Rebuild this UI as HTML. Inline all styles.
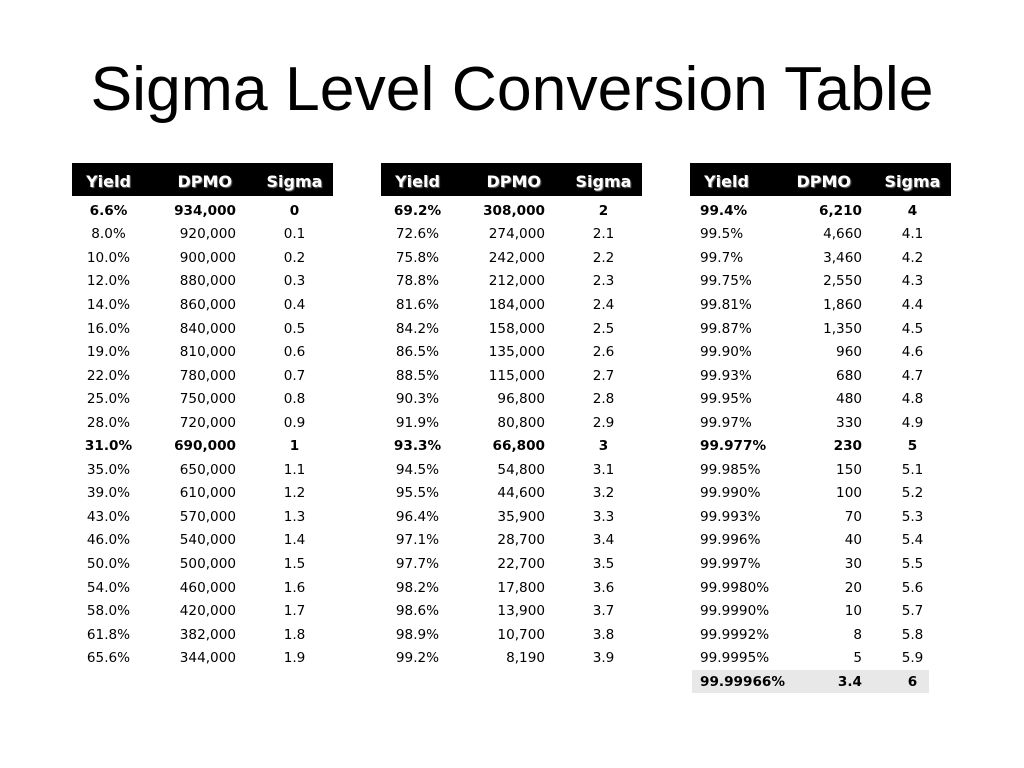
<!DOCTYPE html>
<html><head><meta charset="utf-8"><style>
body{margin:0;width:1024px;height:768px;background:#fff;position:relative;overflow:hidden;font-family:"DejaVu Sans",Verdana,sans-serif;}
h1{position:absolute;left:0;top:58px;width:1024px;text-align:center;margin:0;font:62.5px/1 "Liberation Sans",Arial,sans-serif;color:#000;}
table{position:absolute;top:163px;border-collapse:collapse;font-size:13.6px;color:#000;table-layout:fixed;width:261px;}
th{background:#000;color:#fff;height:30px;padding:3px 0 0 0;font-weight:bold;font-size:16px;text-shadow:1px 1px 1px #777;white-space:nowrap;}
td{height:23.55px;padding:0;white-space:nowrap;overflow:visible;}
.c1{text-align:center}
.c2{text-align:right;padding-right:20px}
th.c2{padding-right:24px}
.c3{text-align:center}
.t3 td.c1{text-align:left;padding-left:10px}
.t3 .c2{padding-right:12px}
.t3 th.c2{padding-right:23px}
.sp td{height:3px}
.hl td{background:#e8e8e8;font-weight:bold}
.bd td{font-weight:bold}
</style></head><body>
<h1>Sigma Level Conversion Table</h1>
<table style="left:72px">
<colgroup><col style="width:73px"><col style="width:111px"><col style="width:77px"></colgroup>
<tr><th class="c1">Yield</th><th class="c2">DPMO</th><th class="c3">Sigma</th></tr>
<tr class="sp"><td></td><td></td><td></td></tr>
<tr class="bd"><td class="c1">6.6%</td><td class="c2">934,000</td><td class="c3">0</td></tr>
<tr><td class="c1">8.0%</td><td class="c2">920,000</td><td class="c3">0.1</td></tr>
<tr><td class="c1">10.0%</td><td class="c2">900,000</td><td class="c3">0.2</td></tr>
<tr><td class="c1">12.0%</td><td class="c2">880,000</td><td class="c3">0.3</td></tr>
<tr><td class="c1">14.0%</td><td class="c2">860,000</td><td class="c3">0.4</td></tr>
<tr><td class="c1">16.0%</td><td class="c2">840,000</td><td class="c3">0.5</td></tr>
<tr><td class="c1">19.0%</td><td class="c2">810,000</td><td class="c3">0.6</td></tr>
<tr><td class="c1">22.0%</td><td class="c2">780,000</td><td class="c3">0.7</td></tr>
<tr><td class="c1">25.0%</td><td class="c2">750,000</td><td class="c3">0.8</td></tr>
<tr><td class="c1">28.0%</td><td class="c2">720,000</td><td class="c3">0.9</td></tr>
<tr class="bd"><td class="c1">31.0%</td><td class="c2">690,000</td><td class="c3">1</td></tr>
<tr><td class="c1">35.0%</td><td class="c2">650,000</td><td class="c3">1.1</td></tr>
<tr><td class="c1">39.0%</td><td class="c2">610,000</td><td class="c3">1.2</td></tr>
<tr><td class="c1">43.0%</td><td class="c2">570,000</td><td class="c3">1.3</td></tr>
<tr><td class="c1">46.0%</td><td class="c2">540,000</td><td class="c3">1.4</td></tr>
<tr><td class="c1">50.0%</td><td class="c2">500,000</td><td class="c3">1.5</td></tr>
<tr><td class="c1">54.0%</td><td class="c2">460,000</td><td class="c3">1.6</td></tr>
<tr><td class="c1">58.0%</td><td class="c2">420,000</td><td class="c3">1.7</td></tr>
<tr><td class="c1">61.8%</td><td class="c2">382,000</td><td class="c3">1.8</td></tr>
<tr><td class="c1">65.6%</td><td class="c2">344,000</td><td class="c3">1.9</td></tr>
</table>
<table style="left:381px">
<colgroup><col style="width:73px"><col style="width:111px"><col style="width:77px"></colgroup>
<tr><th class="c1">Yield</th><th class="c2">DPMO</th><th class="c3">Sigma</th></tr>
<tr class="sp"><td></td><td></td><td></td></tr>
<tr class="bd"><td class="c1">69.2%</td><td class="c2">308,000</td><td class="c3">2</td></tr>
<tr><td class="c1">72.6%</td><td class="c2">274,000</td><td class="c3">2.1</td></tr>
<tr><td class="c1">75.8%</td><td class="c2">242,000</td><td class="c3">2.2</td></tr>
<tr><td class="c1">78.8%</td><td class="c2">212,000</td><td class="c3">2.3</td></tr>
<tr><td class="c1">81.6%</td><td class="c2">184,000</td><td class="c3">2.4</td></tr>
<tr><td class="c1">84.2%</td><td class="c2">158,000</td><td class="c3">2.5</td></tr>
<tr><td class="c1">86.5%</td><td class="c2">135,000</td><td class="c3">2.6</td></tr>
<tr><td class="c1">88.5%</td><td class="c2">115,000</td><td class="c3">2.7</td></tr>
<tr><td class="c1">90.3%</td><td class="c2">96,800</td><td class="c3">2.8</td></tr>
<tr><td class="c1">91.9%</td><td class="c2">80,800</td><td class="c3">2.9</td></tr>
<tr class="bd"><td class="c1">93.3%</td><td class="c2">66,800</td><td class="c3">3</td></tr>
<tr><td class="c1">94.5%</td><td class="c2">54,800</td><td class="c3">3.1</td></tr>
<tr><td class="c1">95.5%</td><td class="c2">44,600</td><td class="c3">3.2</td></tr>
<tr><td class="c1">96.4%</td><td class="c2">35,900</td><td class="c3">3.3</td></tr>
<tr><td class="c1">97.1%</td><td class="c2">28,700</td><td class="c3">3.4</td></tr>
<tr><td class="c1">97.7%</td><td class="c2">22,700</td><td class="c3">3.5</td></tr>
<tr><td class="c1">98.2%</td><td class="c2">17,800</td><td class="c3">3.6</td></tr>
<tr><td class="c1">98.6%</td><td class="c2">13,900</td><td class="c3">3.7</td></tr>
<tr><td class="c1">98.9%</td><td class="c2">10,700</td><td class="c3">3.8</td></tr>
<tr><td class="c1">99.2%</td><td class="c2">8,190</td><td class="c3">3.9</td></tr>
</table>
<table class="t3" style="left:690px">
<colgroup><col style="width:73px"><col style="width:111px"><col style="width:77px"></colgroup>
<tr><th class="c1">Yield</th><th class="c2">DPMO</th><th class="c3">Sigma</th></tr>
<tr class="sp"><td></td><td></td><td></td></tr>
<tr class="bd"><td class="c1">99.4%</td><td class="c2">6,210</td><td class="c3">4</td></tr>
<tr><td class="c1">99.5%</td><td class="c2">4,660</td><td class="c3">4.1</td></tr>
<tr><td class="c1">99.7%</td><td class="c2">3,460</td><td class="c3">4.2</td></tr>
<tr><td class="c1">99.75%</td><td class="c2">2,550</td><td class="c3">4.3</td></tr>
<tr><td class="c1">99.81%</td><td class="c2">1,860</td><td class="c3">4.4</td></tr>
<tr><td class="c1">99.87%</td><td class="c2">1,350</td><td class="c3">4.5</td></tr>
<tr><td class="c1">99.90%</td><td class="c2">960</td><td class="c3">4.6</td></tr>
<tr><td class="c1">99.93%</td><td class="c2">680</td><td class="c3">4.7</td></tr>
<tr><td class="c1">99.95%</td><td class="c2">480</td><td class="c3">4.8</td></tr>
<tr><td class="c1">99.97%</td><td class="c2">330</td><td class="c3">4.9</td></tr>
<tr class="bd"><td class="c1">99.977%</td><td class="c2">230</td><td class="c3">5</td></tr>
<tr><td class="c1">99.985%</td><td class="c2">150</td><td class="c3">5.1</td></tr>
<tr><td class="c1">99.990%</td><td class="c2">100</td><td class="c3">5.2</td></tr>
<tr><td class="c1">99.993%</td><td class="c2">70</td><td class="c3">5.3</td></tr>
<tr><td class="c1">99.996%</td><td class="c2">40</td><td class="c3">5.4</td></tr>
<tr><td class="c1">99.997%</td><td class="c2">30</td><td class="c3">5.5</td></tr>
<tr><td class="c1">99.9980%</td><td class="c2">20</td><td class="c3">5.6</td></tr>
<tr><td class="c1">99.9990%</td><td class="c2">10</td><td class="c3">5.7</td></tr>
<tr><td class="c1">99.9992%</td><td class="c2">8</td><td class="c3">5.8</td></tr>
<tr><td class="c1">99.9995%</td><td class="c2">5</td><td class="c3">5.9</td></tr>
<tr class="hl"><td class="c1" style="background:linear-gradient(90deg,#fff 2px,#e8e8e8 2px)">99.99966%</td><td class="c2">3.4</td><td class="c3" style="background:linear-gradient(90deg,#e8e8e8 55px,#fff 55px)">6</td></tr>
</table>
</body></html>
